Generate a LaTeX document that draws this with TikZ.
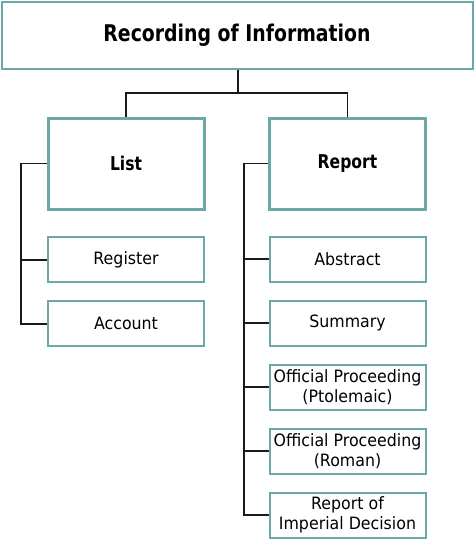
\documentclass[tikz,border=0pt]{standalone}
\usepackage{fontspec}
\setmainfont{DejaVu Sans}
\newfontfamily\regfont[FakeStretch=0.93]{DejaVu Sans}
\newfontfamily\boldfont[FakeStretch=0.82]{DejaVu Sans Bold}
\definecolor{boxteal}{RGB}{108,168,168}
\tikzset{
  box/.style={draw=boxteal, line width=2pt, fill=white, align=center, inner sep=0pt,
    minimum width=156pt, minimum height=45pt, font=\regfont\fontsize{17}{20.5}\selectfont},
  bigbox/.style={box, line width=3pt, minimum height=91pt, font=\boldfont\fontsize{19}{22}\selectfont},
  titlebox/.style={box, minimum width=471pt, minimum height=67pt, font=\boldfont\fontsize{23}{26}\selectfont},
  conn/.style={draw=black!90, line width=1.6pt}
}
\begin{document}
\begin{tikzpicture}[x=1pt,y=-1pt]
\useasboundingbox (0,0) rectangle (474,539);
\node[titlebox] (title) at (237,35) {Recording of Information};
\node[bigbox] (list) at (126,163.5) {List};
\node[bigbox] (report) at (347.5,163.5) {Report};
\node[box] (register) at (126,259.7) {Register};
\node[box] (account) at (126,323.7) {Account};
\node[box] (abstract) at (347.5,259) {Abstract};
\node[box] (summary) at (347.5,323) {Summary};
\node[box] (ptol) at (347.5,387) {Official Proceeding\\(Ptolemaic)};
\node[box] (roman) at (347.5,451) {Official Proceeding\\(Roman)};
\node[box] (imper) at (347.5,515) {Report of\\Imperial Decision};
\coordinate (tj) at (238,93);
\draw[conn] (title.south -| tj) -- (tj);
\draw[conn] (list.north) |- (tj) -| (report.north);
\coordinate (lbus) at (21,0);
\draw[conn] (list.west) -- (list.west -| lbus) |- (account.west);
\draw[conn] (register.west) -- (register.west -| lbus);
\coordinate (rbus) at (244,0);
\draw[conn] (report.west) -- (report.west -| rbus) |- (imper.west);
\draw[conn] (abstract.west) -- (abstract.west -| rbus);
\draw[conn] (summary.west) -- (summary.west -| rbus);
\draw[conn] (ptol.west) -- (ptol.west -| rbus);
\draw[conn] (roman.west) -- (roman.west -| rbus);
\end{tikzpicture}
\end{document}
